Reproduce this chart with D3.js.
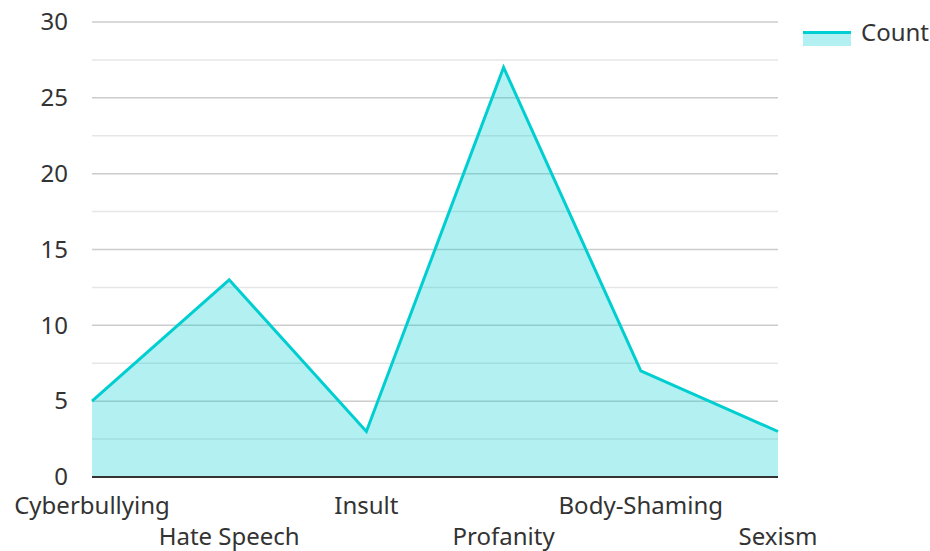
<!DOCTYPE html>
<html>
<head>
<meta charset="utf-8">
<script src="https://cdn.jsdelivr.net/npm/d3@7"></script>
<style>
  body { margin: 0; background: #fff; }
  text { font-family: "Noto Sans", sans-serif; fill: #333; }
</style>
</head>
<body>
<div id="chart"></div>
<script>
const categories = ["Cyberbullying", "Hate Speech", "Insult", "Profanity", "Body-Shaming", "Sexism"];
const counts = [5, 13, 3, 27, 7, 3];
const yTicks = [0, 5, 10, 15, 20, 25, 30];
const minorTicks = [2.5, 7.5, 12.5, 17.5, 22.5, 27.5];
const seriesName = "Count";

const width = 930, height = 551;
const margin = { top: 22, right: 152, bottom: 74, left: 92 };
const innerW = width - margin.left - margin.right;
const innerH = height - margin.top - margin.bottom;

const svg = d3.select("#chart").append("svg")
    .attr("width", width)
    .attr("height", height);

const g = svg.append("g")
    .attr("transform", "translate(" + margin.left + "," + margin.top + ")");

const x = d3.scalePoint()
    .domain(categories)
    .range([0, innerW]);

const y = d3.scaleLinear()
    .domain([0, 30])
    .range([innerH, 0]);

// minor grid
g.append("g")
    .selectAll("line")
    .data(minorTicks)
    .enter()
    .append("line")
    .attr("x1", 0).attr("x2", innerW)
    .attr("y1", d => y(d)).attr("y2", d => y(d))
    .attr("stroke", "#e6e6e6")
    .attr("stroke-width", 1.5);

// major grid
g.append("g")
    .selectAll("line")
    .data(yTicks.filter(d => d > 0))
    .enter()
    .append("line")
    .attr("x1", 0).attr("x2", innerW)
    .attr("y1", d => y(d)).attr("y2", d => y(d))
    .attr("stroke", "#cccccc")
    .attr("stroke-width", 1.5);

const area = d3.area()
    .x((d, i) => x(categories[i]))
    .y0(y(0))
    .y1(d => y(d));

const line = d3.line()
    .x((d, i) => x(categories[i]))
    .y(d => y(d));

g.append("path")
    .datum(counts)
    .attr("d", area)
    .attr("fill", "rgba(0,206,209,0.3)");

g.append("path")
    .datum(counts)
    .attr("d", line)
    .attr("fill", "none")
    .attr("stroke", "#00ced1")
    .attr("stroke-width", 3);

// baseline
g.append("line")
    .attr("x1", 0).attr("x2", innerW)
    .attr("y1", y(0)).attr("y2", y(0))
    .attr("stroke", "#333")
    .attr("stroke-width", 2);

// y labels
const yAxis = d3.axisLeft(y).tickValues(yTicks).tickSize(0).tickPadding(24);
const ya = g.append("g").call(yAxis);
ya.select(".domain").remove();
ya.selectAll("text")
    .style("font-family", "Noto Sans, sans-serif")
    .style("font-size", "24px")
    .attr("fill", "#333");

// x labels, staggered
g.append("g")
    .selectAll("text")
    .data(categories)
    .enter()
    .append("text")
    .attr("x", d => x(d))
    .attr("y", (d, i) => innerH + (i % 2 === 0 ? 29 : 60))
    .attr("dy", "0.35em")
    .attr("text-anchor", "middle")
    .style("font-size", "24px")
    .text(d => d);

// legend
const lg = svg.append("g").attr("transform", "translate(803,31)");
lg.append("rect")
    .attr("width", 48).attr("height", 15)
    .attr("fill", "rgba(0,206,209,0.3)");
lg.append("rect")
    .attr("width", 48).attr("height", 3)
    .attr("fill", "#00ced1");
lg.append("text")
    .attr("x", 58).attr("y", 2)
    .attr("dy", "0.35em")
    .style("font-size", "24px")
    .text(seriesName);
</script>
</body>
</html>
